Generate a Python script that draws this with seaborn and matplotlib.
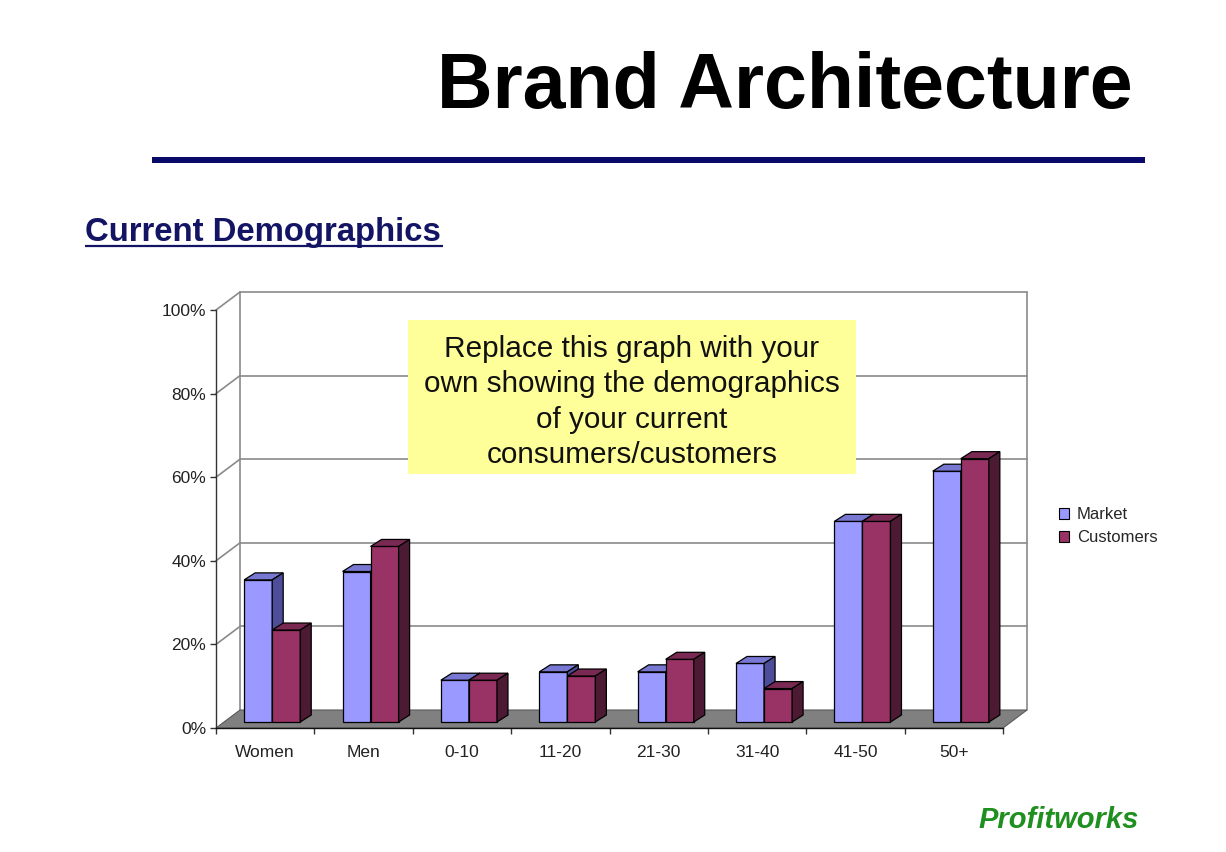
import numpy as np
import pandas as pd
import matplotlib
matplotlib.use('Agg')
import matplotlib.pyplot as plt
import seaborn as sns
from matplotlib.patches import Polygon, Rectangle, Patch
from matplotlib.lines import Line2D
from matplotlib import transforms

# ---------------- data ----------------
categories = ['Women', 'Men', '0-10', '11-20', '21-30', '31-40', '41-50', '50+']
market = [34, 36, 10, 12, 12, 14, 48, 60]
customers = [22, 42, 10, 11, 15, 8, 48, 63]
series_names = ['Market', 'Customers']
y_ticks = [0, 20, 40, 60, 80, 100]
y_tick_labels = ['0%', '20%', '40%', '60%', '80%', '100%']

title = 'Brand Architecture'
subtitle = 'Current Demographics'
note = 'Replace this graph with your\nown showing the demographics\nof your current\nconsumers/customers'
brand = 'Profitworks'

df = pd.DataFrame({
    'Group': categories * 2,
    'Share': market + customers,
    'Series': ['Market'] * len(categories) + ['Customers'] * len(categories),
})

# ---------------- style ----------------
sns.set_theme(style='white')
plt.rcParams['font.family'] = ['Liberation Sans', 'DejaVu Sans']

W, H = 1226, 852
fig = plt.figure(figsize=(W / 100, H / 100), dpi=100)
fig.patch.set_facecolor('white')


def fx(px):
    return px / W


def fy(py):
    return 1 - py / H


ax_l, ax_r, ax_t, ax_b = 216, 1003, 310, 728
ax = fig.add_axes([fx(ax_l), fy(ax_b), (ax_r - ax_l) / W, (ax_b - ax_t) / H])
ax.set_facecolor('none')

colors = {'Market': '#9999FF', 'Customers': '#993366'}
top_colors = {'Market': '#7878D2', 'Customers': '#7A2952'}
side_colors = {'Market': '#4D4D99', 'Customers': '#4D1A33'}

sns.barplot(data=df, x='Group', y='Share', hue='Series', order=categories,
            hue_order=series_names, palette=colors, saturation=1, width=0.57,
            edgecolor='black', linewidth=0.9, ax=ax, legend=False, errorbar=None)

ax.set_xlim(-0.5, len(categories) - 0.5)
ax.set_ylim(0, 100)

# pixel -> data units
ux = len(categories) / (ax_r - ax_l)
uy = 100 / (ax_b - ax_t)

# back wall / floor depth
wdx, wdy = 24 * ux, 18 * uy
x0w, x1w = -0.5, len(categories) - 0.5
grid_c = '#8a8a8a'

floor = Polygon([(x0w, 0), (x1w, 0), (x1w + wdx, wdy), (x0w + wdx, wdy)],
                closed=True, facecolor='#808080', edgecolor='#5a5a5a', lw=0.8,
                zorder=1, clip_on=False)
ax.add_patch(floor)
for y in y_ticks[1:]:
    ax.plot([x0w + wdx, x1w + wdx], [y + wdy, y + wdy], color=grid_c, lw=1.2,
            zorder=0.5, clip_on=False)
    ax.plot([x0w, x0w + wdx], [y, y + wdy], color=grid_c, lw=1.2,
            zorder=0.5, clip_on=False)
ax.plot([x0w + wdx, x0w + wdx], [wdy, 100 + wdy], color=grid_c, lw=1.2, zorder=0.5, clip_on=False)
ax.plot([x1w + wdx, x1w + wdx], [wdy, 100 + wdy], color=grid_c, lw=1.2, zorder=0.5, clip_on=False)

# pseudo-3D bars
bar_off = transforms.ScaledTranslation(7 / 100, 6 / 100, fig.dpi_scale_trans)
btrans = ax.transData + bar_off
ddx, ddy = 11 * ux, 7 * uy
for si, (name, cont) in enumerate(zip(series_names, ax.containers)):
    z = 3 + si
    for p in cont.patches:
        p.set_transform(btrans)
        p.set_clip_on(False)
        p.set_zorder(z)
        x0, w, h = p.get_x(), p.get_width(), p.get_height()
        top = Polygon([(x0, h), (x0 + w, h), (x0 + w + ddx, h + ddy), (x0 + ddx, h + ddy)],
                      closed=True, facecolor=top_colors[name], edgecolor='black', lw=0.9,
                      transform=btrans, zorder=z, clip_on=False)
        side = Polygon([(x0 + w, 0), (x0 + w + ddx, ddy), (x0 + w + ddx, h + ddy), (x0 + w, h)],
                       closed=True, facecolor=side_colors[name], edgecolor='black', lw=0.9,
                       transform=btrans, zorder=z, clip_on=False)
        ax.add_patch(top)
        ax.add_patch(side)

# axes / ticks
for s in ['top', 'right']:
    ax.spines[s].set_visible(False)
ax.spines['left'].set_color('#333333')
ax.spines['bottom'].set_color('#111111')
ax.spines['left'].set_linewidth(1.0)
ax.spines['bottom'].set_linewidth(1.0)
ax.spines['left'].set_zorder(2)
ax.spines['bottom'].set_zorder(2)

ax.set_yticks(y_ticks)
ax.set_yticklabels(y_tick_labels)
ax.set_xticks(range(len(categories)))
ax.set_xticklabels(categories)
ax.set_xticks(np.arange(-0.5, len(categories), 1), minor=True)
ax.tick_params(axis='y', left=True, length=4, width=1, color='#333333',
               labelsize=12.5, labelcolor='#222222', pad=3)
ax.tick_params(axis='x', which='major', bottom=True, length=0, labelsize=12.5,
               labelcolor='#222222', pad=12)
ax.tick_params(axis='x', which='minor', bottom=True, length=4.5, width=1,
               color='#333333')
ax.set_xlabel('')
ax.set_ylabel('')
ax.grid(False)

# legend
handles = [Patch(facecolor=colors[s], edgecolor='black', lw=0.8, label=s) for s in series_names]
fig.legend(handles=handles, loc='upper left', bbox_to_anchor=(fx(1059), fy(507)),
           frameon=False, fontsize=12, handlelength=0.62, handleheight=0.62,
           handletextpad=0.45, labelspacing=0.5, borderaxespad=0, borderpad=0)

# page texts
fig.text(fx(1133), fy(108), title, ha='right', va='baseline', fontsize=55.5,
         fontweight='bold', color='black')
fig.add_artist(Line2D([fx(152), fx(1145)], [fy(160), fy(160)], color='#0a0a6a',
                      lw=6 / 1.389, solid_capstyle='butt'))
fig.text(fx(85), fy(241), subtitle, ha='left', va='baseline', fontsize=23.7,
         fontweight='bold', color='#141464')
fig.add_artist(Line2D([fx(85), fx(443)], [fy(246.5), fy(246.5)], color='#141464',
                      lw=1.6, solid_capstyle='butt'))

fig.add_artist(Rectangle((fx(408), fy(474)), (856 - 408) / W, (474 - 320) / H,
                         transform=fig.transFigure, facecolor='#FFFF99',
                         edgecolor='none', zorder=5))
fig.text(fx(632), fy(402), note, ha='center', va='center', multialignment='center',
         fontsize=21.4, linespacing=1.32, color='#111111', zorder=6)

fig.text(fx(1139), fy(828), brand, ha='right', va='baseline', fontsize=21,
         fontweight='bold', fontstyle='italic', color='#1f8f1f')

fig.savefig('out.png', dpi=100)
